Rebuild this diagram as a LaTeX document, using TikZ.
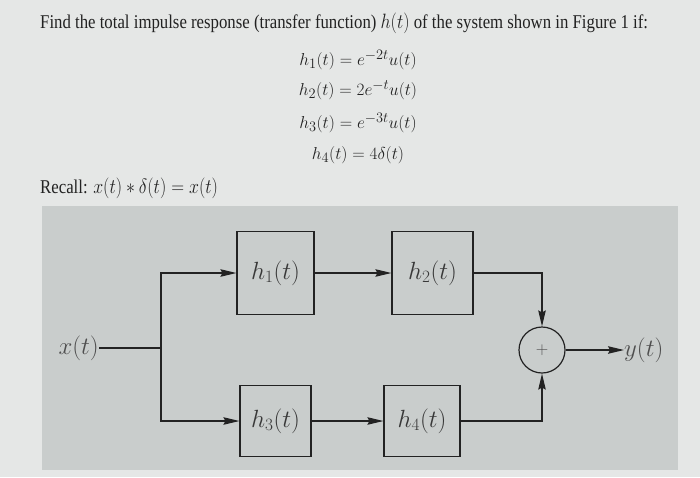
\documentclass[tikz,border=0pt]{standalone}
\usepackage{fontspec}
\setmainfont{Liberation Serif}
\usetikzlibrary{arrows.meta,calc}
\definecolor{pagebg}{HTML}{E5E7E6}
\definecolor{boxbg}{HTML}{C9CDCC}
\definecolor{ink}{HTML}{222222}
\begin{document}
\begin{tikzpicture}[x=1pt,y=-1pt,
  sysbox/.style={draw=ink,line width=1.2pt,inner sep=0pt,font=\fontsize{23}{27}\selectfont,text=ink!90},
  arr/.style={draw=ink,line width=1.2pt,-{Stealth[length=16pt,width=7.5pt,inset=2pt]}},
  wire/.style={draw=ink,line width=1.2pt},
  txt/.style={inner sep=0pt,font=\fontsize{19.5}{23}\selectfont,text=ink},
  eq/.style={inner sep=0pt,font=\fontsize{19}{23}\selectfont,text=ink},
  lbl/.style={inner sep=0pt,font=\fontsize{23}{27}\selectfont,text=ink!80}]
\fill[pagebg] (0,0) rectangle (700,477);
\useasboundingbox (0,0) rectangle (700,477);
\fill[boxbg] (42,206) rectangle (678,470);
% texts
\node[txt,anchor=west] (title) at (40,23) {\scalebox{0.86}[1]{Find the total impulse response (transfer function) $h(t)$ of the system shown in Figure 1 if:}};
\node[eq] (e1) at (358,60) {$h_1(t) = e^{-2t}u(t)$};
\node[eq] (e2) at (358,90) {$h_2(t) = 2e^{-t}u(t)$};
\node[eq] (e3) at (358,123) {$h_3(t) = e^{-3t}u(t)$};
\node[eq] (e4) at (358,155) {$h_4(t) = 4\delta(t)$};
\node[txt,anchor=west] (recall) at (40,188) {\scalebox{0.86}[1]{Recall: $x(t) \ast \delta(t) = x(t)$}};
% diagram
\node[sysbox,minimum width=77pt,minimum height=83pt] (h1) at (275.5,273) {$h_1(t)$};
\node[sysbox,minimum width=81pt,minimum height=83pt] (h2) at (432.5,273) {$h_2(t)$};
\node[sysbox,minimum width=71pt,minimum height=71pt] (h3) at (275.5,421) {$h_3(t)$};
\node[sysbox,minimum width=76pt,minimum height=71pt] (h4) at (422,421) {$h_4(t)$};
\node[draw=ink,line width=1.2pt,circle,minimum size=46pt,inner sep=0pt,font=\fontsize{16}{18}\selectfont,text=ink!80] (sum) at (542,350) {$+$};
\node[lbl,anchor=east] (x) at (99,348) {$x(t)$};
\node[lbl,anchor=west] (y) at (624,350) {$y(t)$};
\coordinate (split) at (161,348);
\draw[wire] (x.east) -- (split);
\draw[arr] (split) |- (h1.west);
\draw[arr] (split) |- (h3.west);
\draw[arr] (h1.east) -- (h2.west);
\draw[arr] (h3.east) -- (h4.west);
\draw[arr] (h2.east) -| (sum.north);
\draw[arr] (h4.east) -| (sum.south);
\draw[arr] (sum.east) -- (y.west);
\end{tikzpicture}
\end{document}
